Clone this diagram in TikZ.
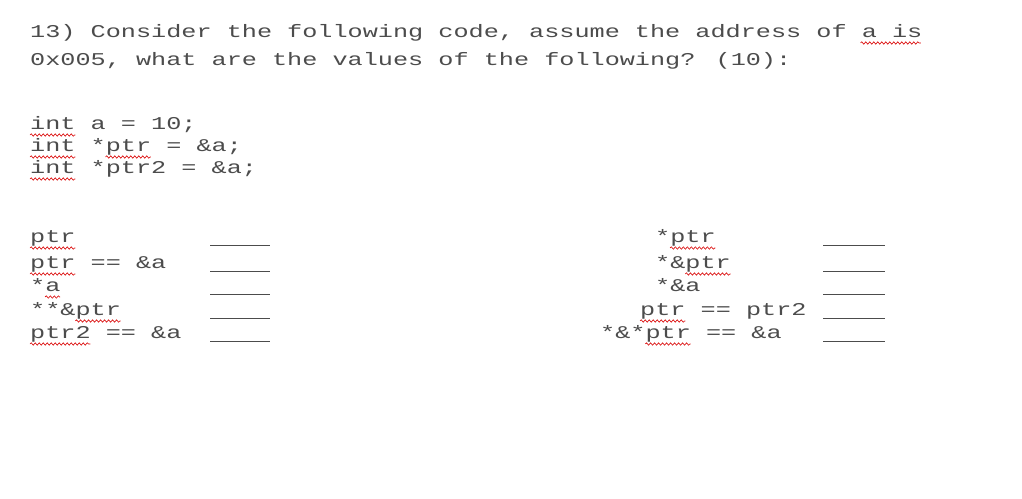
\documentclass[tikz,border=0pt]{standalone}
\usepackage{fontspec}
\newfontfamily\cf[FakeStretch=1.4]{Liberation Mono}
\usetikzlibrary{decorations.pathmorphing}
\begin{document}
\begin{tikzpicture}[x=1pt,y=-1pt,
  txt/.style={anchor=base west,inner sep=0pt,font=\cf\fontsize{18}{20}\selectfont,text=black!70},
  sq/.style={red!85!black,line width=0.6pt,decorate,decoration={snake,amplitude=1.2pt,segment length=4pt}},
  blank/.style={black!70,line width=0.8pt}]
\useasboundingbox (0,0) rectangle (1022,498);
\def\cw{15.1}
\node[txt] (l1) at (30,37) {13) Consider the following code, assume the address of a is};
\node[txt] (l2) at (30,65) {0x005, what are the values of the following? (10):};
\node[txt] (c1) at (30,129) {int a = 10;};
\node[txt] (c2) at (30,151) {int *ptr = \&a;};
\node[txt] (c3) at (30,173) {int *ptr2 = \&a;};
\node[txt] (a1) at (30,242) {ptr};
\node[txt] (a2) at (30,268) {ptr == \&a};
\node[txt] (a3) at (30,291) {*a};
\node[txt] (a4) at (30,315) {**\&ptr};
\node[txt] (a5) at (30,338) {ptr2 == \&a};
\node[txt] (b1) at (655,242) {*ptr};
\node[txt] (b2) at (655,268) {*\&ptr};
\node[txt] (b3) at (655,291) {*\&a};
\node[txt] (b4) at (640,315) {ptr == ptr2};
\node[txt] (b5) at (600,338) {*\&*ptr == \&a};
\foreach \x/\y/\i/\j in {30/37/55/58, 30/129/0/2, 30/151/0/2, 30/151/5/7, 30/173/0/2,
  30/242/0/2, 30/268/0/2, 30/291/1/1, 30/315/3/5, 30/338/0/3,
  655/242/1/3, 655/268/2/4, 640/315/0/2, 600/338/3/5}
  \draw[sq] (\x+\i*\cw,\y+6) -- (\x+\j*\cw+\cw,\y+6);
\foreach \y in {245,271,294,318,341}{
  \draw[blank] (210,\y) -- (270,\y);
  \draw[blank] (823,\y) -- (885,\y);}
\end{tikzpicture}
\end{document}
